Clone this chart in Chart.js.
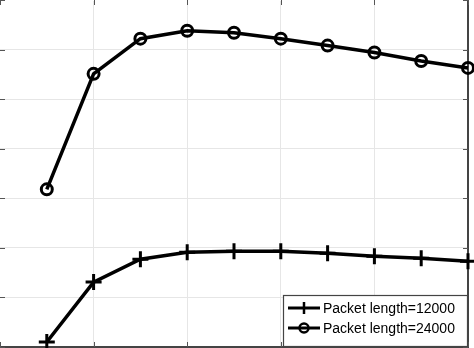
<!DOCTYPE html>
<html>
<head>
<meta charset="utf-8">
<script src="https://cdn.jsdelivr.net/npm/chart.js@4/dist/chart.umd.min.js"></script>
<style>
  html, body { margin: 0; padding: 0; background: #fff; }
  #wrap { width: 474px; height: 348px; }
</style>
</head>
<body>
<div id="wrap"><canvas id="chart"></canvas></div>
<script>
// values (y in grid units, bottom of the plot = 0)
const xValues = [1, 2, 3, 4, 5, 6, 7, 8, 9, 10];
const packet12000 = [0.10, 1.31, 1.77, 1.91, 1.93, 1.93, 1.89, 1.83, 1.79, 1.73];
const packet24000 = [3.18, 5.51, 6.22, 6.38, 6.34, 6.22, 6.08, 5.94, 5.77, 5.63];
const seriesNames = ["Packet length=12000", "Packet length=24000"];
const xTicks = [0, 2, 4, 6, 8, 10];
const yTicks = [0, 1, 2, 3, 4, 5, 6, 7];

const toPoints = (ys) => xValues.map((x, i) => ({ x: x, y: ys[i] }));

// small inward tick marks, like the MATLAB box axes
const inwardTicks = {
  id: "inwardTicks",
  beforeDatasetsDraw(chart) {
    const { ctx, chartArea: a, scales } = chart;
    const len = 5;
    ctx.save();
    ctx.strokeStyle = "#555";
    ctx.lineWidth = 1;
    ctx.beginPath();
    for (const v of xTicks) {
      const px = Math.round(scales.x.getPixelForValue(v)) + 0.5;
      ctx.moveTo(px, a.top);
      ctx.lineTo(px, a.top + len);
      ctx.moveTo(px, a.bottom);
      ctx.lineTo(px, a.bottom - len);
    }
    for (const v of yTicks) {
      const py = Math.round(scales.y.getPixelForValue(v)) + 0.5;
      ctx.moveTo(a.left, py);
      ctx.lineTo(a.left + len, py);
      ctx.moveTo(a.right, py);
      ctx.lineTo(a.right - len, py);
    }
    ctx.stroke();
    ctx.restore();
  },
};

// boxed legend in the lower right corner
const boxLegend = {
  id: "boxLegend",
  afterDatasetsDraw(chart) {
    const { ctx, chartArea: a } = chart;
    const w = 185, h = 52;
    const x0 = a.right - w, y0 = a.bottom - h;
    ctx.save();
    ctx.fillStyle = "#fff";
    ctx.fillRect(x0, y0, w, h);
    ctx.strokeStyle = "#444";
    ctx.lineWidth = 1.2;
    ctx.strokeRect(x0 + 0.5, y0 + 0.5, w - 1, h - 1);
    ctx.font = "14px 'Liberation Sans', Arial, sans-serif";
    ctx.textBaseline = "middle";
    chart.data.datasets.forEach((ds, i) => {
      const cy = y0 + 13 + i * 20;
      ctx.strokeStyle = "#000";
      ctx.lineWidth = 3;
      ctx.beginPath();
      ctx.moveTo(x0 + 5, cy);
      ctx.lineTo(x0 + 37, cy);
      ctx.stroke();
      const cx = x0 + 21;
      ctx.lineWidth = 2.5;
      ctx.beginPath();
      if (ds.pointStyle === "cross") {
        ctx.moveTo(cx, cy - 6);
        ctx.lineTo(cx, cy + 6);
      } else {
        ctx.arc(cx, cy, 4.5, 0, Math.PI * 2);
      }
      ctx.stroke();
      ctx.fillStyle = "#000";
      ctx.fillText(ds.label, x0 + 40, cy + 1);
    });
    ctx.restore();
  },
};

// hide the grid line on the cropped left / top edges
const gridColor = (edgeValue) => (c) =>
  c.tick && Math.abs(c.tick.value - edgeValue) < 1e-6 ? "#ffffff" : "#e6e6e6";

new Chart(document.getElementById("chart"), {
  type: "line",
  data: {
    datasets: [
      {
        label: seriesNames[0],
        data: toPoints(packet12000),
        borderColor: "#000",
        borderWidth: 3.5,
        pointStyle: "cross",
        pointRadius: 8,
        pointBorderWidth: 3,
        pointBorderColor: "#000",
        pointBackgroundColor: "#000",
        tension: 0,
        clip: false,
      },
      {
        label: seriesNames[1],
        data: toPoints(packet24000),
        borderColor: "#000",
        borderWidth: 3.5,
        pointStyle: "circle",
        pointRadius: 5.5,
        pointBorderWidth: 3,
        pointBorderColor: "#000",
        pointBackgroundColor: "rgba(0,0,0,0)",
        tension: 0,
        clip: false,
      },
    ],
  },
  options: {
    responsive: true,
    maintainAspectRatio: false,
    animation: false,
    layout: { autoPadding: false, padding: { left: 0, right: 6, top: 0, bottom: 1 } },
    plugins: { legend: { display: false }, tooltip: { enabled: false } },
    scales: {
      x: {
        type: "linear",
        min: 0,
        max: 10,
        ticks: { display: false, stepSize: 2 },
        grid: { color: gridColor(0), lineWidth: 1, drawTicks: false },
        border: { display: true, color: "#444", width: 2 },
      },
      y: {
        position: "right",
        min: 0,
        max: 7,
        ticks: { display: false, stepSize: 1 },
        grid: { color: gridColor(7), lineWidth: 1, drawTicks: false },
        border: { display: true, color: "#444", width: 2 },
      },
    },
  },
  plugins: [inwardTicks, boxLegend],
});
</script>
</body>
</html>
